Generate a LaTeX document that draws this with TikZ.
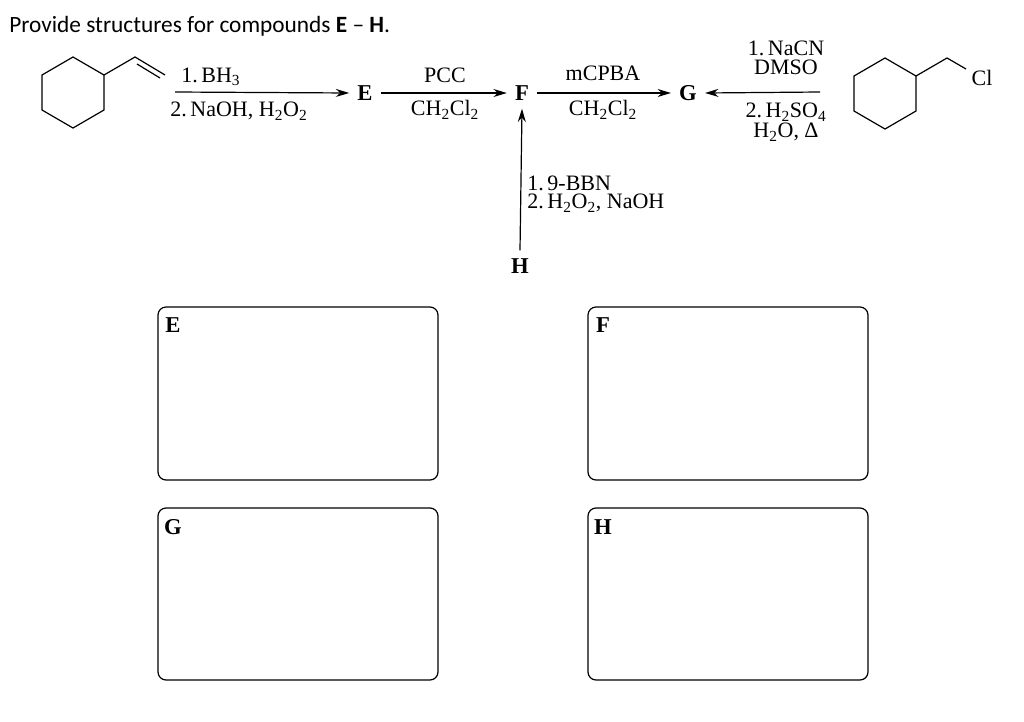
\documentclass[tikz,border=0pt]{standalone}
\usepackage{fontspec}
\setmainfont{Liberation Serif}
\newfontfamily\titlefont{Carlito}
\usetikzlibrary{arrows.meta}
\newcommand{\sbs}[1]{\textsubscript{#1}}
\begin{document}
\begin{tikzpicture}[x=0.75pt,y=-0.75pt,
  bond/.style={line width=0.9pt},
  rxn/.style={line width=0.9pt,-{Stealth[length=10pt,width=6pt]}},
  lab/.style={font=\fontsize{16.5}{18}\selectfont,inner sep=0pt},
  cmp/.style={font=\fontsize{17}{18}\selectfont\bfseries,inner sep=6pt},
  tag/.style={font=\fontsize{17}{18}\selectfont\bfseries,inner sep=1pt},
  box/.style={draw,line width=0.9pt,rounded corners=6pt}]
\useasboundingbox (0,0) rectangle (1024,721);
\node[anchor=west,inner sep=0pt,font=\titlefont\fontsize{17.5}{19}\selectfont] (title) at (9,26) {Provide structures for compounds \textbf{E} – \textbf{H}.};
% left molecule
\draw[bond] (73,57)--(104,75)--(104,110)--(73,128)--(42,110)--(42,75)--cycle;
\draw[bond] (104,75)--(135,57)--(165,75);
\draw[bond] (137,64)--(160,78);
% right molecule
\draw[bond] (885,58)--(916,76)--(916,111)--(885,129)--(854,111)--(854,76)--cycle;
\draw[bond] (916,76)--(947,58)--(966,69);
\node[lab] (cl) at (982,78) {Cl};
% compounds
\node[cmp] (E) at (365,93) {E};
\node[cmp] (F) at (522,93) {F};
\node[cmp] (G) at (688,93) {G};
\node[cmp] (H) at (520,266) {H};
\coordinate (s1) at (175,92);
\draw[rxn] (s1) -- (E.west);
\draw[rxn] (E.east) -- (F.west);
\draw[rxn] (F.east) -- (G.west);
\coordinate (s4) at (820,92);
\draw[rxn] (s4) -- (G.east);
\draw[rxn] (H.north) -- (F.south);
\node[lab,anchor=west] (r1a) at (181,77) {1.\,BH\sbs{3}};
\node[lab,anchor=west] (r1b) at (170,111) {2.\,NaOH, H\sbs{2}O\sbs{2}};
\node[lab] (r2a) at (445,75) {PCC};
\node[lab] (r2b) at (445,110) {CH\sbs{2}Cl\sbs{2}};
\node[lab] (r3a) at (603,73) {mCPBA};
\node[lab] (r3b) at (603,110) {CH\sbs{2}Cl\sbs{2}};
\node[lab] (r4a) at (786,48) {1.\,NaCN};
\node[lab] (r4b) at (786,67) {DMSO};
\node[lab] (r4c) at (786,112) {2.\,H\sbs{2}SO\sbs{4}};
\node[lab] (r4d) at (786,132) {H\sbs{2}O, Δ};
\node[lab,anchor=west] (r5a) at (527,183) {1.\,9-BBN};
\node[lab,anchor=west] (r5b) at (527,203) {2.\,H\sbs{2}O\sbs{2}, NaOH};
% boxes
\draw[box] (158,307) rectangle (438,480);
\draw[box] (588,307) rectangle (868,480);
\draw[box] (158,508) rectangle (438,680);
\draw[box] (588,508) rectangle (868,680);
\node[tag] (bE) at (173,325) {E};
\node[tag] (bF) at (603,325) {F};
\node[tag] (bG) at (173,527) {G};
\node[tag] (bH) at (603,527) {H};
\end{tikzpicture}
\end{document}
